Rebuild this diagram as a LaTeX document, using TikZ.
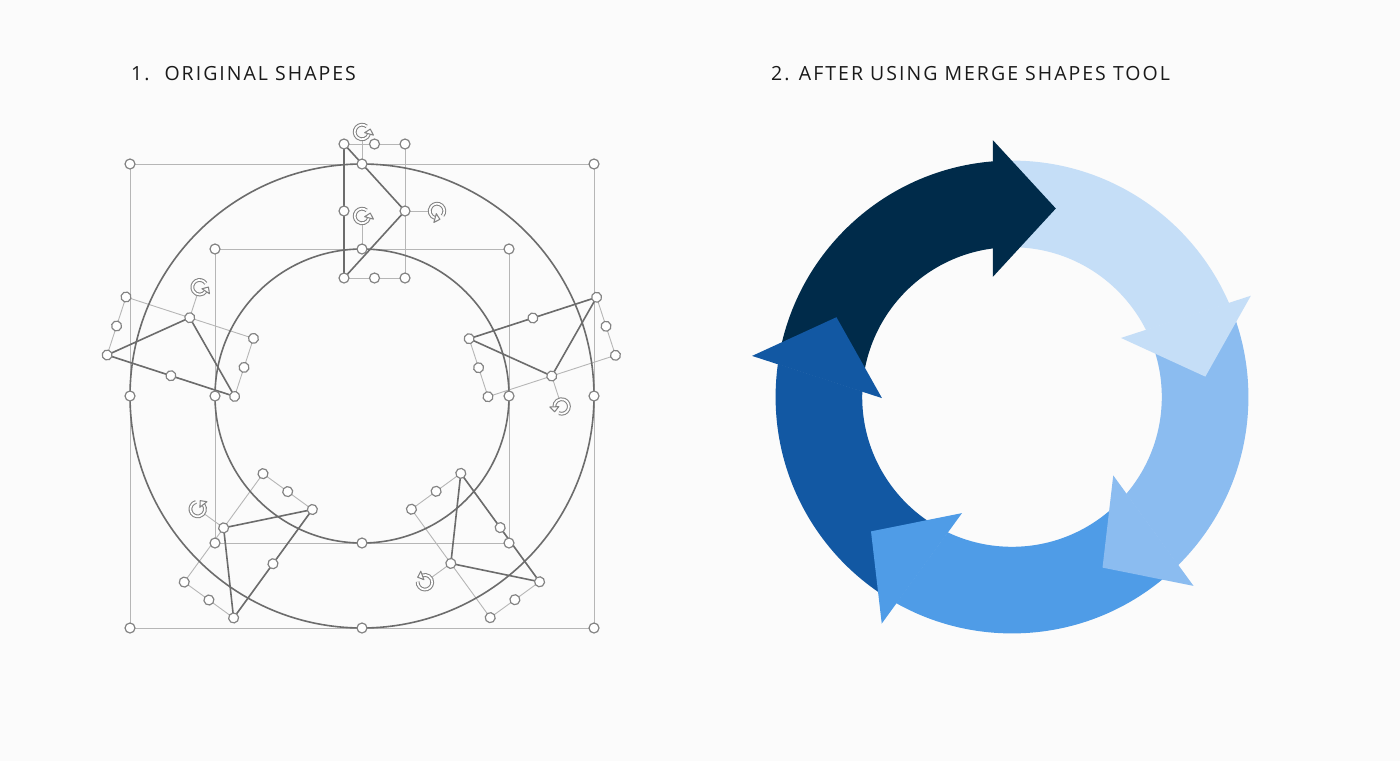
\documentclass[tikz,border=0pt]{standalone}
\usepackage{fontspec}
\setmainfont{Open Sans}
\newfontfamily\ttlfont[LetterSpace=10.3]{Open Sans}
\definecolor{bg}{HTML}{FBFBFB}
\definecolor{titlec}{HTML}{1A1A1A}
\definecolor{shapeline}{HTML}{6C6C6C}
\definecolor{boxline}{HTML}{B6B6B6}
\definecolor{handle}{HTML}{838383}
\definecolor{navy}{HTML}{002B4A}
\definecolor{lightb}{HTML}{C5DEF7}
\definecolor{lmb}{HTML}{8BBCF0}
\definecolor{medb}{HTML}{4F9CE7}
\definecolor{darkb}{HTML}{1258A3}
\tikzset{
  boxl/.style={draw=boxline, line width=0.9pt},
  shapel/.style={draw=shapeline, line width=1.6pt, line join=round},
  hdl/.style={draw=handle, fill=white, line width=1.2pt},
  rotarc/.style={draw=handle, double=white, double distance=1.7pt, line width=1.05pt},
  rothead/.style={draw=handle, fill=white, line width=1.05pt, line join=round},
  ttl/.style={anchor=base west, text=titlec, font=\ttlfont\fontsize{19.5}{23}\selectfont, inner sep=0pt},
}
\newcommand\roticon{%
  \draw[rotarc] (-50:7.3) arc[start angle=-50, end angle=-345, radius=7.3];
  \draw[rothead] (11.4,3.1) -- (8.3,-2.9) -- (2.7,0.7) -- cycle;}
\begin{document}
\begin{tikzpicture}[x=1pt,y=-1pt]
\fill[bg] (0,0) rectangle (1400,761);
\useasboundingbox (0,0) rectangle (1400,761);
\node[ttl] (t1) at (131,80) {1.\hspace{15pt}ORIGINAL SHAPES};
\node[ttl] (t2) at (771,80) {2. AFTER USING MERGE SHAPES TOOL};
% ---------------- left: original shapes ----------------
\begin{scope}[shift={(362,396)}]
  % thin bounding boxes
  \draw[boxl] (-232,-232) rectangle (232,232);
  \draw[boxl] (-147,-147) rectangle (147,147);
  \draw[boxl] (0,-232) -- (0,-255);
  \draw[boxl] (0,-147) -- (0,-171);
  \foreach \cx/\cy/\a in {12.5/-185/0, 180.3/-49/-72, 113.5/149.5/-144, -113.7/149.8/144, -181.7/-49.3/72}{
    \begin{scope}[shift={(\cx,\cy)},rotate=\a]
      \draw[boxl] (-30.5,-67) -- (30.5,-67) -- (30.5,67) -- (-30.5,67) -- cycle;
      \draw[boxl] (30.5,0) -- (54,0);
    \end{scope}}
  % thick shape outlines
  \draw[shapel] (0,0) circle[radius=232pt];
  \draw[shapel] (0,0) circle[radius=147pt];
  \foreach \cx/\cy/\a in {12.5/-185/0, 180.3/-49/-72, 113.5/149.5/-144, -113.7/149.8/144, -181.7/-49.3/72}{
    \draw[shapel, shift={(\cx,\cy)}, rotate=\a] (-30.5,-67) -- (30.5,0) -- (-30.5,67) -- cycle;}
  % handles of the circles
  \foreach \p in {(-232,-232),(0,-232),(232,-232),(232,0),(232,232),(0,232),(-232,232),(-232,0),
                  (-147,-147),(0,-147),(147,-147),(147,0),(147,147),(0,147),(-147,147),(-147,0)}
    \draw[hdl] \p circle[radius=5pt];
  \begin{scope}[shift={(0,-264)}] \roticon \end{scope}
  \begin{scope}[shift={(0,-180)}] \roticon \end{scope}
  % handles of the triangles
  \foreach \cx/\cy/\a in {12.5/-185/0, 180.3/-49/-72, 113.5/149.5/-144, -113.7/149.8/144, -181.7/-49.3/72}{
    \begin{scope}[shift={(\cx,\cy)},rotate=\a]
      \foreach \q in {(-30.5,-67),(0,-67),(30.5,-67),(30.5,0),(30.5,67),(0,67),(-30.5,67),(-30.5,0)}
        \draw[hdl] \q circle[radius=5pt];
      \begin{scope}[shift={(62.5,0)},rotate=-90] \roticon \end{scope}
    \end{scope}}
\end{scope}
% ---------------- right: merged shapes ----------------
\begin{scope}[shift={(1012,397)}, scale=1.019]
  \foreach \pcx/\pcy/\pa/\ncx/\ncy/\na/\col in {
     -181.7/-49.3/72/12.5/-185/0/navy,
     12.5/-185/0/180.3/-49/-72/lightb,
     180.3/-49/-72/113.5/149.5/-144/lmb,
     113.5/149.5/-144/-113.7/149.8/144/medb,
     -113.7/149.8/144/-181.7/-49.3/72/darkb}{
    \begin{scope}
      \clip[shift={(\pcx,\pcy)},rotate=\pa] (-30.5,-1500) -- (1500,-1500) -- (1500,1500) -- (-30.5,1500) -- cycle;
      \clip[shift={(\ncx,\ncy)},rotate=\na] (-30.9,-1500) -- (-1500,-1500) -- (-1500,1500) -- (-30.9,1500) -- cycle;
      \fill[\col, even odd rule] (0,0) circle[radius=232pt] (0,0) circle[radius=147pt];
    \end{scope}}
  \foreach \cx/\cy/\a/\col in {12.5/-185/0/navy, 180.3/-49/-72/lightb, 113.5/149.5/-144/lmb, -113.7/149.8/144/medb, -181.7/-49.3/72/darkb}{
    \fill[\col, shift={(\cx,\cy)}, rotate=\a] (-31.2,-67) -- (30.5,0) -- (-31.2,67) -- cycle;}
\end{scope}
\end{tikzpicture}
\end{document}
